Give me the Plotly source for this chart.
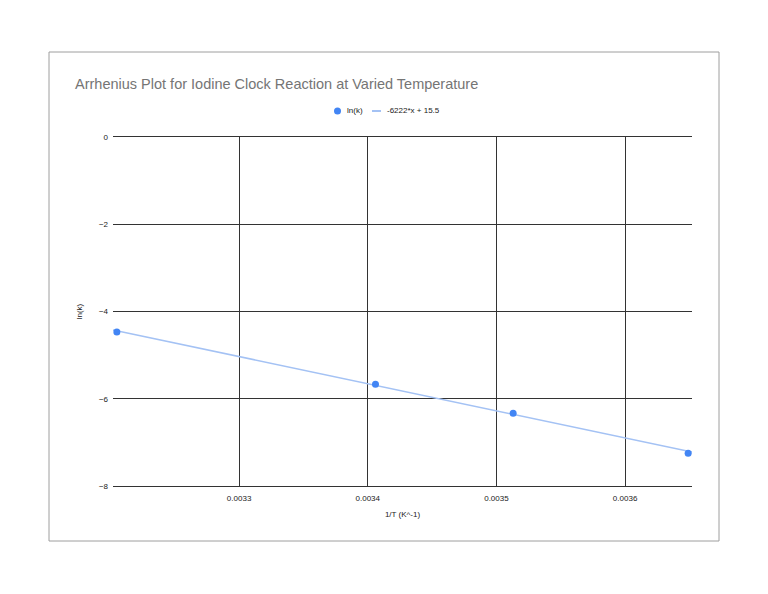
import plotly.graph_objects as go

# data
inv_T = [0.003205, 0.003406, 0.003513, 0.003649]
ln_k = [-4.47, -5.67, -6.33, -7.25]

slope = -6222
intercept = 15.5
x_range = [0.003202, 0.003652]
x_ticks = [0.0033, 0.0034, 0.0035, 0.0036]
y_ticks = [0, -2, -4, -6, -8]

trend_x = x_range
trend_y = [slope * v + intercept for v in trend_x]

point_color = '#4285f4'
trend_color = '#a4c2f4'

fig = go.Figure()

# trendline under the points
fig.add_trace(go.Scatter(
    x=trend_x, y=trend_y,
    mode='lines',
    name='-6222*x + 15.5',
    line=dict(color=trend_color, width=1.5),
    showlegend=False,
))

fig.add_trace(go.Scatter(
    x=inv_T, y=ln_k,
    mode='markers',
    name='ln(k)',
    marker=dict(color=point_color, size=7, line=dict(width=0)),
    showlegend=False,
))

# plot area 113..692 x 137..486 px, paper coords from that
W, H = 579, 349


def px(x):
    return (x - 113) / W


def py(y):
    return (486 - y) / H


leg_y = py(111)

fig.update_layout(
    width=768, height=594,
    paper_bgcolor='white',
    plot_bgcolor='white',
    font=dict(family='Liberation Sans, Arial, sans-serif', size=8, color='#222222'),
    margin=dict(l=113, r=76, t=137, b=108, autoexpand=False),
    title=dict(
        text='Arrhenius Plot for Iodine Clock Reaction at Varied Temperature',
        x=75 / 768, xanchor='left',
        y=1 - 84 / 594, yanchor='middle',
        font=dict(size=14.5, color='#757575'),
    ),
    showlegend=False,
    xaxis=dict(
        range=x_range,
        tickvals=x_ticks,
        ticktext=[str(v) for v in x_ticks],
        showgrid=True, gridcolor='#333333', gridwidth=1,
        zeroline=False,
        showline=True, mirror=True, linecolor='#333333', linewidth=1,
        ticks='', ticklabelstandoff=4,
        title=dict(text='1/T (K^-1)', font=dict(size=8), standoff=9),
    ),
    yaxis=dict(
        range=[-8, 0],
        tickvals=y_ticks,
        showgrid=True, gridcolor='#333333', gridwidth=1,
        zeroline=False, showline=False,
        ticks='', ticklabelstandoff=4,
        title=dict(text='ln(k)', font=dict(size=8), standoff=15),
    ),
    shapes=[
        dict(type='rect', xref='paper', yref='paper',
             x0=px(49), x1=px(719), y0=py(541), y1=py(52),
             line=dict(color='#9e9e9e', width=1),
             fillcolor='rgba(0,0,0,0)', layer='below'),
        # legend symbols
        dict(type='circle', xref='paper', yref='paper',
             x0=px(334), x1=px(341), y0=py(114.5), y1=py(107.5),
             line=dict(width=0), fillcolor=point_color),
        dict(type='line', xref='paper', yref='paper',
             x0=px(372), x1=px(381), y0=leg_y, y1=leg_y,
             line=dict(color=trend_color, width=2)),
    ],
    annotations=[
        dict(text='ln(k)', xref='paper', yref='paper',
             x=px(345), y=leg_y, xanchor='left', yanchor='middle',
             showarrow=False, font=dict(size=8)),
        dict(text='-6222*x + 15.5', xref='paper', yref='paper',
             x=px(385), y=leg_y, xanchor='left', yanchor='middle',
             showarrow=False, font=dict(size=8)),
    ],
)

fig.write_html('out.html', config={'displayModeBar': False},
               post_script="document.body.style.margin='0';")
